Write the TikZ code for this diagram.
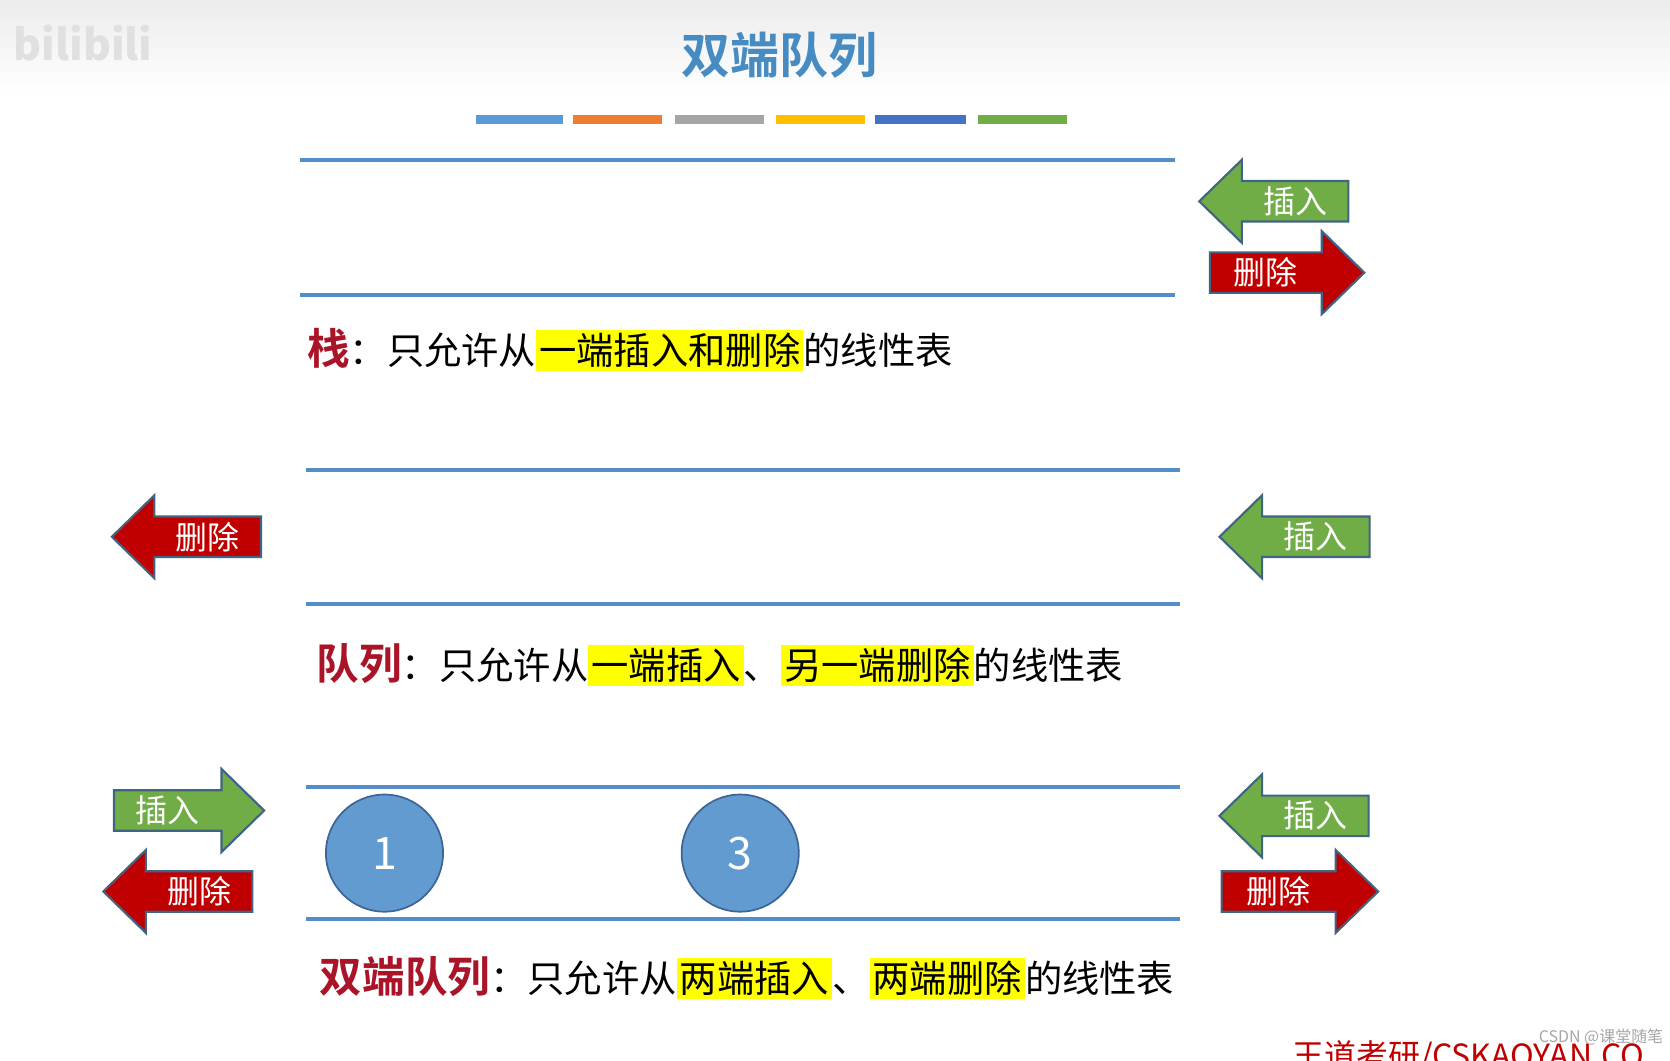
\documentclass[tikz,border=0pt]{standalone}
\usepackage{fontspec}
\setmainfont{Noto Sans CJK SC}
\newfontfamily\cjkb{Noto Sans CJK SC Bold}
\usepackage{xcolor}
\definecolor{linec}{RGB}{84,141,200}
\definecolor{gfill}{RGB}{112,173,71}
\definecolor{rfill}{RGB}{192,0,0}
\definecolor{aedge}{RGB}{65,100,130}
\definecolor{titlec}{RGB}{70,140,195}
\definecolor{lblred}{RGB}{170,20,40}
\definecolor{hly}{RGB}{255,255,0}
\definecolor{circf}{RGB}{98,155,208}
\definecolor{circd}{RGB}{60,100,150}
\newcommand\hlt[1]{{\setlength\fboxsep{1.5pt}\colorbox{hly}{#1}}}
\newcommand\myarrow[7]{%
 \ifnum#5=1
  \path[draw=aedge,line width=1pt,fill=#1] (#2,#4-19)--(#3-40,#4-19)--(#3-40,#4-39)--(#3,#4)--(#3-40,#4+39)--(#3-40,#4+19)--(#2,#4+19)--cycle;
  \node[text=white,font=\fontsize{15}{15}\selectfont] (#7) at ({(#2+#3-40)/2},#4) {#6};
 \else
  \path[draw=aedge,line width=1pt,fill=#1] (#3,#4-19)--(#2+40,#4-19)--(#2+40,#4-39)--(#2,#4)--(#2+40,#4+39)--(#2+40,#4+19)--(#3,#4+19)--cycle;
  \node[text=white,font=\fontsize{15}{15}\selectfont] (#7) at ({(#2+40+#3)/2},#4) {#6};
 \fi}
\tikzset{rail/.style={linec,line width=2pt},
 body/.style={anchor=west,inner sep=0pt,font=\fontsize{17.5}{18}\selectfont},
 circ/.style={circle,fill=circf,draw=circd,line width=0.8pt,minimum size=55pt,inner sep=0pt,text=white,font=\fontsize{21}{21}\itshape\selectfont}}
\begin{document}
\begin{tikzpicture}[x=0.5pt,y=-0.5pt]
\useasboundingbox (0,0) rectangle (1568,996);
\shade[top color=gray!15,bottom color=white] (0,0) rectangle (1568,88);
\node[text=black!12,font=\fontsize{20}{20}\bfseries\selectfont] (bili) at (78,40) {bilibili};
\node[text=titlec,font=\cjkb\fontsize{23}{23}\selectfont] (title) at (732,52) {双端队列};
\foreach \a/\b/\c in {447/529/{91,155,213},538/622/{237,125,49},634/717/{165,165,165},729/812/{255,192,0},822/907/{68,114,196},918/1002/{112,173,71}}{
 \definecolor{tmp}{RGB}{\c}\fill[tmp] (\a,108) rectangle (\b,116);}
\draw[rail] (282,150) -- (1103,150); \draw[rail] (282,277) -- (1103,277);
\myarrow{gfill}{1126}{1266}{189}{-1}{插入}{a1}
\myarrow{rfill}{1136}{1281}{256}{1}{删除}{a2}
\node[body] (t1) at (288,328) {{\cjkb\fontsize{20}{20}\selectfont\color{lblred}栈}：只允许从\hlt{一端插入和删除}的线性表};
\draw[rail] (287,441) -- (1108,441); \draw[rail] (287,567) -- (1108,567);
\myarrow{rfill}{105}{245}{504}{-1}{删除}{a3}
\myarrow{gfill}{1145}{1286}{504}{-1}{插入}{a4}
\node[body] (t2) at (297,624) {{\cjkb\fontsize{20}{20}\selectfont\color{lblred}队列}：只允许从\hlt{一端插入}、\hlt{另一端删除}的线性表};
\draw[rail] (287,739) -- (1108,739); \draw[rail] (287,863) -- (1108,863);
\node[circ] (c1) at (361,801) {1};
\node[circ] (c3) at (695,801) {3};
\myarrow{gfill}{107}{248}{761}{1}{插入}{a5}
\myarrow{rfill}{97}{237}{837}{-1}{删除}{a6}
\myarrow{gfill}{1145}{1285}{766}{-1}{插入}{a7}
\myarrow{rfill}{1147}{1294}{837}{1}{删除}{a8}
\node[body] (t3) at (300,918) {{\cjkb\fontsize{20}{20}\selectfont\color{lblred}双端队列}：只允许从\hlt{两端插入}、\hlt{两端删除}的线性表};
\node[anchor=west,inner sep=0pt,text=rfill,font=\fontsize{15}{15}\selectfont] (wd) at (1213,992) {王道考研/CSKAOYAN.CO};
\node[anchor=east,inner sep=0pt,text=gray!70,font=\fontsize{7.5}{8}\selectfont] (csdn) at (1562,974) {CSDN @课堂随笔};
\end{tikzpicture}
\end{document}
